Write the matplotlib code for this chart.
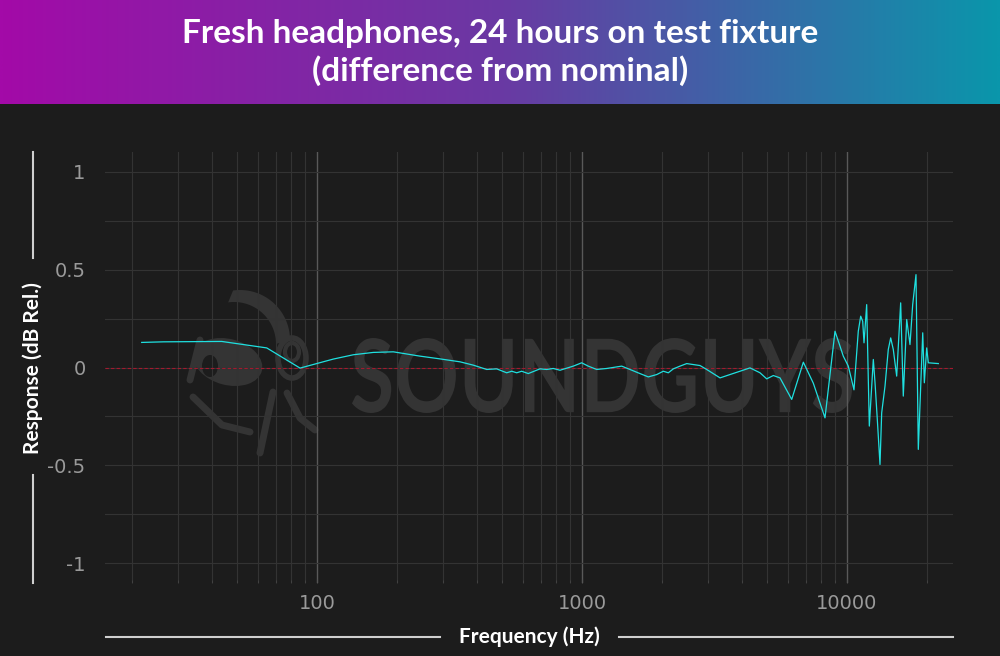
import numpy as np
import matplotlib
matplotlib.use("Agg")
import matplotlib.pyplot as plt
from matplotlib.colors import LinearSegmentedColormap
from matplotlib.textpath import TextPath
from matplotlib.font_manager import FontProperties
from matplotlib.patches import PathPatch, Polygon, Ellipse
from matplotlib.transforms import Affine2D
from matplotlib.lines import Line2D

# ------------------------- data -------------------------
FREQ_HZ = [21.8, 26.3, 43.7, 64.6, 86.3, 115.2, 137.1, 163.1, 194.1, 244.8,
           291.1, 346.4, 388.9, 436.9, 476.5, 519.7, 543, 567, 592, 627,
           694, 736, 779, 826, 927, 997, 1056, 1136, 1239, 1412,
           1517, 1655, 1779, 1914, 2027, 2117, 2211, 2343, 2484, 2630,
           2788, 2955, 3318, 3618, 3947, 4305, 4696, 4977, 5272, 5587,
           6185, 6843, 7462, 8260, 9010, 9410, 9683, 10113, 10626, 11030,
           11265, 11461, 11593, 11865, 12140, 12569, 12757, 13012, 13320, 13518,
           13913, 14315, 14618, 14951, 15398, 15942, 16308, 16799, 17286, 17697,
           18213, 18582, 19310, 19580, 19990, 20270, 22110]
RESP_DB = [0.128, 0.131, 0.133, 0.100, -0.003, 0.043, 0.065, 0.077, 0.080, 0.058,
           0.044, 0.029, 0.012, -0.010, -0.007, -0.027, -0.019, -0.027, -0.019, -0.031,
           -0.007, -0.010, -0.005, -0.014, 0.007, 0.024, 0.007, -0.010, -0.005, 0.007,
           -0.010, -0.031, -0.048, -0.036, -0.019, -0.027, -0.007, 0.007, 0.020, 0.015,
           0.010, -0.010, -0.053, -0.036, -0.019, -0.002, -0.027, -0.058, -0.041, -0.053,
           -0.163, 0.027, -0.080, -0.257, 0.185, 0.109, 0.058, 0.007, -0.114, 0.185,
           0.262, 0.236, 0.126, 0.321, -0.299, 0.041, -0.078, -0.265, -0.495, -0.231,
           -0.095, 0.092, 0.151, 0.092, -0.044, 0.330, -0.146, 0.245, 0.117, 0.321,
           0.474, -0.418, 0.177, -0.078, 0.100, 0.024, 0.020]

Y_TICKS = [-1, -0.5, 0, 0.5, 1]
Y_TICK_LABELS = ["-1", "-0.5", "0", "0.5", "1"]
X_TICKS = [100, 1000, 10000]
X_TICK_LABELS = ["100", "1000", "10000"]

TITLE_1 = "Fresh headphones, 24 hours on test fixture"
TITLE_2 = "(difference from nominal)"

BG = "#1c1c1c"
W, H = 1000, 656


def fx(x):
    return x / W


def fy(y):
    # image pixel row (from top) -> figure fraction
    return 1 - y / H


fig = plt.figure(figsize=(10, 6.56), dpi=100, facecolor=BG)

# ---- header band ----
hax = fig.add_axes([0, fy(104), 1, 104 / H])
cmap = LinearSegmentedColormap.from_list("hdr", ["#a30aa8", "#6a39a3", "#0a96ab"])
hax.imshow(np.linspace(0, 1, 512)[None, :], cmap=cmap, aspect="auto", extent=[0, 1, 0, 1])
hax.axis("off")
fig.text(0.5, fy(33), TITLE_1, ha="center", va="center", color="white",
         fontsize=24, fontweight="bold", family="Lato")
fig.text(0.5, fy(71), TITLE_2, ha="center", va="center", color="white",
         fontsize=24, fontweight="bold", family="Lato")

# ---- main axes ----
ax = fig.add_axes([fx(105), fy(583), fx(953) - fx(105), fy(152) - fy(583)])
ax.set_facecolor(BG)
ax.set_xscale("log")
for s in ax.spines.values():
    s.set_visible(False)
ax.set_axisbelow(True)

ax.set_yticks(Y_TICKS)
ax.set_yticklabels(Y_TICK_LABELS)
ax.set_yticks([-0.75, -0.25, 0.25, 0.75], minor=True)
ax.set_xticks(X_TICKS)
ax.set_xticklabels(X_TICK_LABELS)
minor_x = [m * d for d in (10, 100, 1000, 10000) for m in range(2, 10) if m * d < 25000]
ax.set_xticks(minor_x, minor=True)
ax.xaxis.set_minor_formatter(matplotlib.ticker.NullFormatter())

ax.tick_params(axis="y", which="both", length=0, pad=14, labelsize=14, labelcolor="#9a9a9a")
ax.tick_params(axis="x", which="major", length=3, color="#555555", pad=8,
               labelsize=14, labelcolor="#9a9a9a", direction="in")
ax.tick_params(axis="x", which="minor", length=2, color="#444444", direction="in")
ax.grid(True, which="major", axis="x", color="#595959", lw=1.0)
ax.grid(True, which="minor", axis="x", color="#333333", lw=0.8)
ax.grid(True, which="both", axis="y", color="#333333", lw=0.8)

# ---- watermark ----
wm_col = "#343434"


def px_tr():
    return Affine2D().scale(1 / W, 1 / H) + fig.transFigure


tp = TextPath((0, 0), "SOUNDGUYS", size=1, prop=FontProperties(family="Lato", weight="bold"))
ext = tp.get_extents()
tr = (Affine2D().translate(-ext.x0, -ext.y0)
      .scale(500 / ext.width, 75 / ext.height)
      .translate(352, H - 413))
ax.add_patch(PathPatch(tr.transform_path(tp), facecolor=wm_col, edgecolor="none",
                       transform=px_tr(), zorder=0.3))

# logo (rough)
t = np.linspace(np.radians(0), np.radians(98), 40)
c1 = np.array([240, H - 340])
outer = np.c_[c1[0] + 50 * np.cos(t), c1[1] + 50 * np.sin(t)]
c2 = np.array([234, H - 344])
inner = np.c_[c2[0] + 42 * np.cos(t[::-1]), c2[1] + 42 * np.sin(t[::-1])]
ax.add_patch(Polygon(np.vstack([outer, inner]), closed=True, facecolor=wm_col,
                     edgecolor="none", transform=px_tr(), zorder=0.3))
ax.add_patch(Ellipse((292, H - 358), 28, 40, facecolor="none", edgecolor=wm_col,
                     lw=4, transform=px_tr(), zorder=0.3))
ax.add_patch(Ellipse((292, H - 352), 14, 18, facecolor="none", edgecolor=wm_col,
                     lw=3, transform=px_tr(), zorder=0.3))
ax.add_patch(Ellipse((228, H - 362), 70, 46, angle=-15, facecolor=wm_col,
                     edgecolor="none", transform=px_tr(), zorder=0.3))
ax.add_patch(Ellipse((210, H - 366), 16, 22, facecolor=BG,
                     edgecolor="none", transform=px_tr(), zorder=0.31))
for seg in ([(193, 397), (222, 425), (250, 432)], [(260, 453), (273, 392)],
            [(287, 393), (300, 418), (315, 430)], [(200, 340), (190, 380)]):
    xs = [p[0] for p in seg]
    ys = [H - p[1] for p in seg]
    ax.add_line(Line2D(xs, ys, color=wm_col, lw=5, solid_capstyle="round",
                       transform=px_tr(), zorder=0.3))

# ---- zero line + data ----
ax.axhline(0, color="#a3192e", lw=0.8, ls=(0, (3, 2)), zorder=2)
ax.plot(FREQ_HZ, RESP_DB, color="#1fe0e0", lw=0.9, zorder=3)
ax.set_xlim(10 ** 1.2, 10 ** 4.4)
ax.set_ylim(-1.1, 1.1)

# ---- axis labels with side rules ----
fig.text(fx(33), fy(368), "Response (dB Rel.)", rotation=90, ha="center", va="center",
         color="white", fontsize=15, fontweight="bold", family="Lato")
fig.text(fx(529), fy(637), "Frequency (Hz)", ha="center", va="center",
         color="white", fontsize=15, fontweight="bold", family="Lato")
rule = dict(color="#cfcfcf", lw=1.5, transform=fig.transFigure)
fig.add_artist(Line2D([fx(33), fx(33)], [fy(152), fy(258)], **rule))
fig.add_artist(Line2D([fx(33), fx(33)], [fy(475), fy(583)], **rule))
fig.add_artist(Line2D([fx(106), fx(440)], [fy(637), fy(637)], **rule))
fig.add_artist(Line2D([fx(619), fx(953)], [fy(637), fy(637)], **rule))

fig.savefig("out.png", dpi=100, facecolor=BG)
